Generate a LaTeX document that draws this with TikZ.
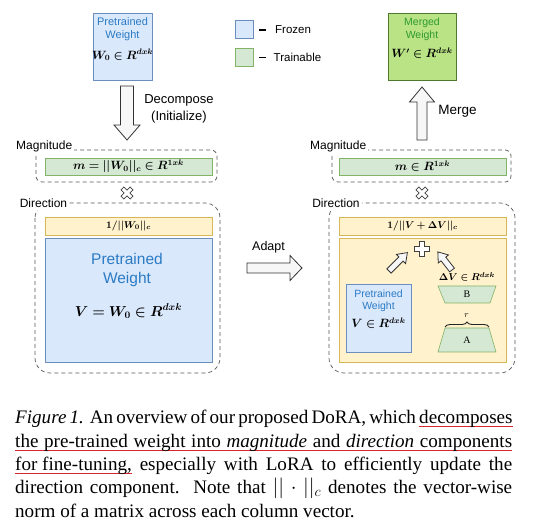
\documentclass[tikz,border=0pt]{standalone}
\usepackage{fontspec}
\usepackage{amsmath,bm}
\setmainfont{Liberation Serif}
\newfontfamily\dsans{Liberation Sans}
\usetikzlibrary{decorations.pathreplacing}
\definecolor{bfill}{HTML}{DAE8FC}
\definecolor{bdraw}{HTML}{6C8EBF}
\definecolor{gfill}{HTML}{D5E8D4}
\definecolor{gdraw}{HTML}{82B366}
\definecolor{yfill}{HTML}{FFF2CC}
\definecolor{ydraw}{HTML}{D6B656}
\definecolor{mfill}{HTML}{B9E385}
\definecolor{mdraw}{HTML}{4E7A2E}
\definecolor{btext}{HTML}{2B7BC4}
\definecolor{gtext}{HTML}{2E9A2E}
\definecolor{ulred}{HTML}{D8262E}
\newcommand\capul[1]{\setbox0=\hbox{#1}\rlap{\textcolor{ulred}{\rule[-4pt]{\wd0}{1.3pt}}}\box0\relax}
\newcommand\myfs[1]{\fontsize{#1}{#1}\selectfont}
\tikzset{
  lbl/.style={font=\dsans\fontsize{12}{14}\selectfont, inner sep=1pt},
  dbox/.style={draw=black!65, dash pattern=on 4pt off 3pt, line width=0.7pt},
  bluebox/.style={draw=bdraw, fill=bfill, line width=0.6pt, inner sep=0pt, anchor=north west},
  greenbox/.style={draw=gdraw, fill=gfill, line width=0.6pt, inner sep=0pt, anchor=north west},
  yelbox/.style={draw=ydraw, fill=yfill, line width=0.6pt, inner sep=0pt, anchor=north west},
  mergebox/.style={draw=mdraw, fill=mfill, line width=0.6pt, inner sep=0pt, anchor=north west},
  txt/.style={inner sep=0pt, align=center},
  barr/.style={draw=black!80, fill=black!3, line width=0.8pt, line join=miter},
  sym/.style={draw=black!75, fill=white, line width=0.7pt},
  pics/barrow/.style args={#1/#2/#3/#4}{code={
    \path[barr] (0,{-#2/2}) -- ({#1-#4},{-#2/2}) -- ({#1-#4},{-#3/2}) -- (#1,0)
      -- ({#1-#4},{#3/2}) -- ({#1-#4},{#2/2}) -- (0,{#2/2}) -- cycle;}},
  pics/xcross/.style args={#1/#2}{code={
    \path[sym] (-#1,-#2) -- (#1,-#2) -- (#1,-#1) -- (#2,-#1) -- (#2,#1) -- (#1,#1)
      -- (#1,#2) -- (-#1,#2) -- (-#1,#1) -- (-#2,#1) -- (-#2,-#1) -- (-#1,-#1) -- cycle;}},
}
\begin{document}
\begin{tikzpicture}[x=1pt,y=-1pt]
\useasboundingbox[fill=white] (0,0) rectangle (541,526);

% ---------- top left pretrained weight ----------
\node[bluebox, minimum width=59pt, minimum height=67pt] (w0box) at (93,13) {};
\node[txt, text=btext, font=\dsans\fontsize{11}{13}\selectfont] (w0name) at (122.5,29.5) {Pretrained\\Weight};
\node[txt, font=\myfs{12}] (w0math) at (122.5,55) {$\bm{W_0\in R^{dxk}}$};

% ---------- legend ----------
\node[bluebox, minimum width=18pt, minimum height=18pt] (legb) at (235,20) {};
\node[greenbox, minimum width=18pt, minimum height=18pt] (legg) at (235,48) {};
\node[lbl, anchor=west, font=\dsans\fontsize{11.5}{13}\selectfont] (legbt) at (258,30) {\rule[3pt]{7pt}{1.6pt}\hspace{9pt}Frozen};
\node[lbl, anchor=west, font=\dsans\fontsize{11.5}{13}\selectfont] (leggt) at (258,57) {\rule[3pt]{7pt}{1.6pt}\hspace{7.5pt}Trainable};

% ---------- decompose arrow ----------
\pic[rotate=-90] (decarr) at (127,86) {barrow=54/13/26/15};
\node[txt, font=\dsans\fontsize{13}{17}\selectfont] (declbl) at (179,108.5) {Decompose\\(Initialize)};

% ---------- left magnitude ----------
\draw[dbox, rounded corners=6pt] (36,150) rectangle (217,182);
\node[lbl, fill=white, minimum height=20pt, anchor=north west, inner xsep=2pt] (magl) at (14,136) {Magnitude};
\node[greenbox, minimum width=167pt, minimum height=17pt] (mleft) at (45,158) {};
\node[txt, font=\myfs{11.5}] (mleftt) at (128.5,166.5) {$\bm{m=||W_0||_c\in R^{1xk}}$};
\pic[rotate=45] (xl) at (127,193) {xcross=2/6.5};

% ---------- left direction ----------
\draw[dbox, rounded corners=15pt] (35,203) rectangle (220,373);
\node[lbl, fill=white, inner xsep=2pt, inner ysep=3pt] (dirl) at (43.5,203) {Direction};
\node[yelbox, minimum width=167pt, minimum height=18pt] (nleft) at (45,217) {};
\node[txt, font=\myfs{10}] (nleftt) at (128.5,226) {$\bm{1/||W_0||_c}$};
\node[bluebox, minimum width=167pt, minimum height=124pt] (vbig) at (45,238) {};
\node[txt, text=btext, font=\dsans\fontsize{15.5}{19}\selectfont] (vbign) at (127,269.5) {Pretrained\\Weight};
\node[txt, font=\myfs{14}] (vbigm) at (128.5,311) {$\bm{V=W_0\in R^{dxk}}$};

% ---------- adapt arrow ----------
\pic (adarr) at (247,268) {barrow=55/10/25/12};
\node[lbl, font=\dsans\fontsize{12.5}{14}\selectfont] (adlbl) at (268.5,247) {Adapt};

% ---------- merged weight ----------
\node[mergebox, minimum width=68pt, minimum height=67pt] (mwbox) at (388,13) {};
\node[txt, text=gtext, font=\dsans\fontsize{10.5}{13}\selectfont] (mwname) at (422,29.5) {Merged\\Weight};
\node[txt, font=\myfs{12}] (mwmath) at (422,53) {$\bm{W'\in R^{dxk}}$};
\pic[rotate=90] (mgarr) at (422,140) {barrow=53/10/25/15};
\node[lbl, font=\dsans\fontsize{13.5}{15}\selectfont] (mglbl) at (457.5,111) {Merge};

% ---------- right magnitude ----------
\draw[dbox, rounded corners=6pt] (332,150) rectangle (511,182);
\node[lbl, fill=white, minimum height=20pt, anchor=north west, inner xsep=2pt] (magr) at (308,136) {Magnitude};
\node[greenbox, minimum width=167pt, minimum height=17pt] (mright) at (339,158) {};
\node[txt, font=\myfs{11.5}] (mrightt) at (422.5,166.5) {$\bm{m\in R^{1xk}}$};
\pic[rotate=45] (xr) at (422,193) {xcross=2/6.5};

% ---------- right direction ----------
\draw[dbox, rounded corners=15pt] (329,203) rectangle (515,373);
\node[lbl, fill=white, inner xsep=2pt, inner ysep=3pt] (dirr) at (336,203) {Direction};
\node[yelbox, minimum width=167pt, minimum height=18pt] (nright) at (339,217) {};
\node[txt, font=\myfs{10}] (nrightt) at (422.5,226) {$\bm{1/||V+\Delta V||_c}$};
\node[yelbox, minimum width=167pt, minimum height=124pt] (vright) at (339,238) {};
\pic (plus) at (422,249) {xcross=2.2/7.5};
\pic[rotate=45] (la) at (389,271) {barrow=26/6/13/9};
\pic[rotate=128] (ra) at (452,270) {barrow=23/6/13/9};
\node[txt, font=\myfs{10}] (dvt) at (467,277) {$\bm{\Delta V\in R^{dxk}}$};

\node[bluebox, minimum width=65pt, minimum height=68pt] (vsmall) at (346,284) {};
\node[txt, text=btext, font=\dsans\fontsize{10.5}{12.5}\selectfont] (vsmalln) at (378.5,301) {Pretrained\\Weight};
\node[txt, font=\myfs{12}] (vsmallm) at (378.5,323) {$\bm{V\in R^{dxk}}$};

\path[draw=gdraw, fill=gfill, line width=0.6pt] (438,286) -- (496,286) -- (490,303) -- (445,303) -- cycle;
\node[txt, font=\myfs{10}] (bt) at (467,294.5) {B};
\path[draw=gdraw, fill=gfill, line width=0.6pt] (445,328) -- (489,328) -- (496,352) -- (438,352) -- cycle;
\node[txt, font=\myfs{10}] (at) at (467,340) {A};
\coordinate (brl) at (445,327);
\coordinate (brr) at (489,327);
\draw[black!85, line width=0.9pt, decorate, decoration={brace, amplitude=5pt}] (brl) -- (brr);
\node[txt, font=\myfs{9}] (rl) at (466.5,316) {$r$};

% ---------- caption ----------
\begin{scope}[every node/.style={anchor=base west, inner sep=0pt, font=\fontsize{19.1}{23.4}\selectfont}]
\node (cap1) at (15,423.5) {\hbox to 497pt{\textit{Figure 1.} An overview of our proposed DoRA, which \capul{decomposes}}};
\node (cap2) at (15,447) {\hbox to 497pt{\rlap{\textcolor{ulred}{\rule[-4pt]{497pt}{1.3pt}}}the pre-trained weight into \textit{magnitude} and \textit{direction} components}};
\node (cap3) at (15,470.4) {\hbox to 497pt{\capul{for fine-tuning,} especially with LoRA to efficiently update the}};
\node (cap4) at (15,493.8) {\hbox to 497pt{direction component.\ \ Note that $||\cdot||_c$ denotes the vector-wise}};
\node (cap5) at (15,517.2) {norm of a matrix across each column vector.};
\end{scope}
\end{tikzpicture}
\end{document}
